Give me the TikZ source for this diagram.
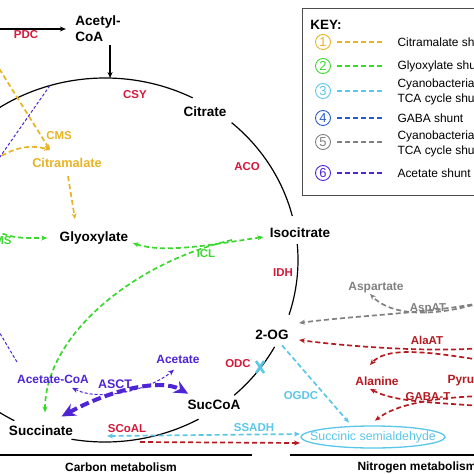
\documentclass[tikz,border=0pt]{standalone}
\usepackage{fontspec}
\setmainfont{Liberation Sans}
\usetikzlibrary{arrows.meta,calc}

\definecolor{enzred}{RGB}{212,24,58}
\definecolor{gabared}{RGB}{180,26,32}
\definecolor{citorange}{RGB}{232,180,36}
\definecolor{glygreen}{RGB}{58,216,46}
\definecolor{cyashunt}{RGB}{90,198,232}
\definecolor{gabablue}{RGB}{42,92,200}
\definecolor{aspgray}{RGB}{128,128,128}
\definecolor{acepurple}{RGB}{78,36,212}

\begin{document}
\begin{tikzpicture}[x=1bp,y=-1bp,>={Stealth[length=6bp,width=5bp]},
  metab/.style={font=\fontsize{13.6}{16}\selectfont\bfseries,align=left},
  submet/.style={font=\fontsize{12}{14}\selectfont\bfseries},
  enzlabel/.style={font=\fontsize{11.5}{13}\selectfont\bfseries,text=enzred},
  keylabel/.style={font=\fontsize{12}{15}\selectfont,anchor=west,align=left},
  shuntline/.style={dash pattern=on 5bp off 3bp,line width=1.7bp},
  tcaline/.style={line width=1.2bp}]

  \useasboundingbox (0,0) rectangle (474,474);
  \clip (0,0) rectangle (474,474);

  \coordinate (tca) at (105,260);
  \foreach \a/\b in {-130/-63,-49/-14,-5/17.5,28.5/48,61/100,118/130}{
    \draw[tcaline] (tca) ++(\a:193 and 182) arc[start angle=\a,end angle=\b,x radius=193,y radius=182];
  }

  \node[metab] (acoa) at (98,29) {Acetyl-\\CoA};
  \coordinate (pdcstart) at (-5,29);
  \draw[->,line width=1.2bp] (pdcstart) -- ($(acoa.west)+(-6,0)$);
  \node[enzlabel] (pdc) at (26,35) {PDC};
  \coordinate (cstop) at ($(tca)+(-88.5:193 and 182)$);
  \draw[->,line width=1.2bp] (acoa.south -| cstop) -- (cstop);

  \node[metab] (citrate) at (205,112) {Citrate};
  \node[metab] (isocit) at (300,233) {Isocitrate};
  \node[metab] (twoog) at (272,335) {2-OG};
  \node[metab] (succoa) at (214,405) {SucCoA};
  \node[metab] (succ) at (41,431) {Succinate};
  \node[metab] (glyox) at (94,238) {Glyoxylate};

  \node[enzlabel] (csy) at (135,95) {CSY};
  \node[enzlabel] (aco) at (247,167) {ACO};
  \node[enzlabel] (idh) at (283,273) {IDH};
  \node[enzlabel] (odc) at (238,364) {ODC};
  \node[enzlabel] (scoal) at (127,429) {SCoAL};

  \node[submet,text=citorange,font=\fontsize{12.8}{14}\selectfont\bfseries] (citra) at (67,163) {Citramalate};
  \node[enzlabel,text=citorange] (cms) at (59,136) {CMS};
  \coordinate (cmsarrow) at (50,150);
  \coordinate (pyrdown) at (-5,62);
  \coordinate (acetin) at (-5,160);
  \draw[shuntline,citorange,->] (pyrdown) -- (cmsarrow);
  \draw[shuntline,citorange,->] (acetin) .. controls (12,148) and (30,144) .. (cmsarrow);
  \draw[shuntline,citorange,->] ($(citra.south)+(1,5)$) -- ($(glyox.north)+(-19,-9)$);

  \node[enzlabel,text=glygreen,anchor=east] (ms) at (15,241) {MS};
  \coordinate (msin) at (-5,231);
  \draw[shuntline,glygreen,->] (msin) .. controls (15,238) .. ($(glyox.west)+(-9,0)$);
  \node[enzlabel,text=glygreen] (icl) at (206,254) {ICL};
  \draw[shuntline,glygreen,<->] ($(glyox.east)+(1,5)$) .. controls (165,254) and (215,244) .. ($(isocit.west)+(-3,4)$);
  \coordinate (iclsplit) at (232,240);
  \draw[shuntline,glygreen,->] (iclsplit) .. controls (135,262) and (45,335) .. ($(succ.north)+(4,-10)$);

  \node[font=\fontsize{12.4}{13}\selectfont,text=cyashunt] (ssa) at (373,437) {Succinic semialdehyde};
  \draw[cyashunt,line width=1.3bp] (ssa) ellipse[x radius=72,y radius=11];
  \coordinate (ssaw) at ($(ssa)+(-72,0)$);
  \node[enzlabel,text=cyashunt] (ogdc) at (301,396) {OGDC};
  \node[enzlabel,text=cyashunt] (ssadh) at (254,428) {SSADH};
  \draw[shuntline,cyashunt,->] ($(twoog.south)+(10,2)$) -- ($(ssa.north)+(-24,-5)$);
  \coordinate (odcx) at (260,367);
  \draw[cyashunt,line width=2.6bp] ($(odcx)+(-4,-6)$) -- ($(odcx)+(4,6)$) ($(odcx)+(4,-6)$) -- ($(odcx)+(-4,6)$);
  \coordinate (ssadhend) at (107,436);
  \draw[shuntline,cyashunt,<->] (ssadhend) -- ($(ssaw)+(-1,-3)$);
  \coordinate (gabain) at (140,442);
  \draw[shuntline,gabared,->] (gabain) -- ($(ssaw)+(-1,6)$);

  \node[submet,text=aspgray] (asp) at (376,288) {Aspartate};
  \node[enzlabel,text=aspgray] (aspat) at (428,309) {AspAT};
  \coordinate (aspin) at (480,303);
  \draw[shuntline,aspgray,->] (aspin) .. controls (430,313) and (350,316) .. ($(twoog.east)+(7,-12)$);
  \draw[shuntline,aspgray,->] (aspin) .. controls (430,318) and (390,315) .. ($(asp.south)+(-6,-3)$);

  \node[submet,text=gabared] (ala) at (377,381) {Alanine};
  \node[submet,text=gabared,anchor=west] (pyr) at (444,381) {Pyruvate};
  \node[enzlabel,text=gabared] (alaat) at (427,340) {AlaAT};
  \node[enzlabel,text=gabared] (gabat) at (428,397) {GABA-T};
  \coordinate (alain) at (480,348);
  \coordinate (pyrup) at (480,360);
  \coordinate (gabaup) at (480,406);
  \coordinate (gabadown) at (480,396);
  \draw[shuntline,gabared,->] (alain) .. controls (440,352) and (360,348) .. ($(twoog.east)+(7,5)$);
  \draw[shuntline,gabared,->] (pyrup) .. controls (420,350) and (385,348) .. ($(ala.north)+(-7,-8)$);
  \draw[shuntline,gabared,->] (gabaup) .. controls (430,402) and (395,402) .. ($(ala.south)+(-7,0)$);
  \draw[shuntline,gabared,->] (gabadown) .. controls (430,398) and (395,405) .. ($(ssa.north)+(2,-7)$);

  \node[submet,text=acepurple] (acetcoa) at (53,379) {Acetate-CoA};
  \node[submet,text=acepurple] (acet) at (178,359) {Acetate};
  \node[submet,text=acepurple,font=\fontsize{12.5}{14}\selectfont\bfseries] (asct) at (115,384) {ASCT};
  \coordinate (acstart) at ($(tca)+(-106.6:193 and 182)$);
  \coordinate (acleft) at (-5,164);
  \coordinate (aclow) at (-5,325);
  \coordinate (aclowend) at (17,362);
  \draw[acepurple,line width=1bp,dash pattern=on 3bp off 2bp] (acstart) -- (acleft);
  \draw[acepurple,line width=1bp,dash pattern=on 3bp off 2bp] (aclow) -- (aclowend);
  \draw[acepurple,line width=1bp,dash pattern=on 3bp off 2bp,<->] ($(acetcoa.south)+(19,1)$) .. controls (100,402) and (150,390) .. ($(acet.south)+(-4,3)$);
  \draw[acepurple,line width=4bp,dash pattern=on 9bp off 4bp,{Stealth[length=14bp,width=13bp]}-{Stealth[length=14bp,width=13bp]}] ($(succ.north east)+(-15,-6)$) .. controls (110,390) and (160,378) .. ($(succoa.north west)+(4,-3)$);

  \coordinate (carbl) at (-5,455);
  \coordinate (carbr) at (252,455);
  \coordinate (nitl) at (290,455);
  \coordinate (nitr) at (480,455);
  \draw[line width=2bp] (carbl) -- (carbr) (nitl) -- (nitr);
  \node[font=\fontsize{12}{14}\selectfont\bfseries] (carbon) at (121,467) {Carbon metabolism};
  \node[font=\fontsize{12}{14}\selectfont\bfseries,anchor=west] (nitrogen) at (354,467) {Nitrogen metabolism};

  \draw[gray!60!black,line width=0.9bp] (302,8) rectangle (480,195);
  \node[font=\fontsize{13.5}{14}\selectfont\bfseries] (key) at (326,25) {KEY:};
  \foreach \n/\col/\y in {1/citorange/42,2/glygreen/66,3/cyashunt/91,4/gabablue/118,5/aspgray/142,6/acepurple/173}{
    \node[circle,draw=\col,text=\col,line width=0.9bp,minimum size=15bp,inner sep=0pt,font=\fontsize{13}{13}\selectfont] (num\n) at (323,\y) {\n};
    \draw[shuntline,\col] (num\n.east) ++(6,0) -- ++(47,0);
  }
  \foreach \y/\txt in {42/Citramalate shunt,66/Glyoxylate shunt,92/{Cyanobacterial\\TCA cycle shunt},118/GABA shunt,144/{Cyanobacterial\\TCA cycle shunt},173/Acetate shunt}{
    \node[keylabel] (lbl\y) at (394,\y) {\txt};
  }
\end{tikzpicture}
\end{document}
